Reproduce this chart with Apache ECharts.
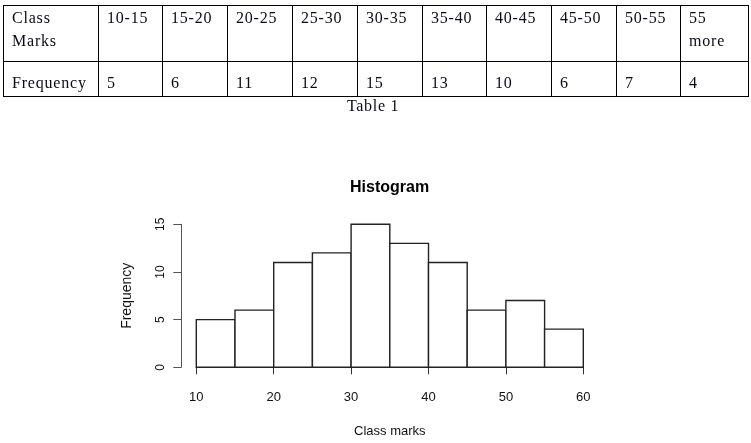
<!DOCTYPE html>
<html>
<head>
<meta charset="utf-8">
<script src="https://cdn.jsdelivr.net/npm/echarts@6/dist/echarts.min.js"></script>
<style>
  html, body { margin: 0; padding: 0; background: #fff; }
  #wrap { position: relative; width: 751px; height: 443px; overflow: hidden; }
  #chart { position: absolute; left: 0; top: 0; width: 751px; height: 443px; }
  #tbl {
    position: absolute; left: 3px; top: 5px; width: 745px;
    border-collapse: collapse; table-layout: fixed;
    font-family: 'Liberation Serif', 'Times New Roman', serif;
    font-size: 16px; line-height: 23px; letter-spacing: 0.8px; color: #0a0a14;
  }
  #tbl td { border: 1px solid #000; padding: 0 0 0 8px; vertical-align: top; white-space: pre-line; }
  #tbl tr.r1 { height: 56px; }
  #tbl tr.r2 { height: 35px; }
  #tbl tr.r2 td { padding-top: 9px; }
  #caption {
    position: absolute; left: 0; top: 96px; width: 746px; text-align: center;
    font-family: 'Liberation Serif', 'Times New Roman', serif;
    font-size: 16px; line-height: 20px; letter-spacing: 0.7px; color: #0a0a14;
  }
</style>
</head>
<body>
<div id="wrap">
  <div id="chart"></div>
  <table id="tbl"></table>
  <div id="caption">Table 1</div>
</div>
<script>
// table values
var tableHeads = ['Class\nMarks', 'Frequency'];
var classMarks = ['10-15', '15-20', '20-25', '25-30', '30-35', '35-40', '40-45', '45-50', '50-55', '55\nmore'];
var tableFreq = [5, 6, 11, 12, 15, 13, 10, 6, 7, 4];

// histogram values (as drawn)
var binEdges = [10, 15, 20, 25, 30, 35, 40, 45, 50, 55, 60];
var histFreq = [5, 6, 11, 12, 15, 13, 11, 6, 7, 4];
var xTicks = [10, 20, 30, 40, 50, 60];
var yTicks = [0, 5, 10, 15];

// build the table
var colW = [95, 64, 65, 65, 65, 65, 64, 65, 65, 64, 68];
var tbl = document.getElementById('tbl');
var cg = document.createElement('colgroup');
colW.forEach(function (w) {
  var c = document.createElement('col');
  c.style.width = w + 'px';
  cg.appendChild(c);
});
tbl.appendChild(cg);
[classMarks, tableFreq].forEach(function (row, r) {
  var tr = document.createElement('tr');
  tr.className = 'r' + (r + 1);
  var th = document.createElement('td');
  th.textContent = tableHeads[r];
  tr.appendChild(th);
  row.forEach(function (v) {
    var td = document.createElement('td');
    td.textContent = v;
    tr.appendChild(td);
  });
  tbl.appendChild(tr);
});

var histData = histFreq.map(function (f, i) {
  return [binEdges[i], binEdges[i + 1], f];
});

var fontR = "'Liberation Sans', Arial, sans-serif";

var option = {
  backgroundColor: '#fff',
  animation: false,
  title: {
    text: 'Histogram',
    left: 345,
    top: 175,
    textStyle: { fontFamily: fontR, fontSize: 16, fontWeight: 'bold', color: '#000' }
  },
  grid: {
    left: 196.3,
    right: 167.7,
    top: 224.3,
    bottom: 75.7,
    containLabel: false,
    outerBoundsMode: 'none'
  },
  xAxis: {
    type: 'value',
    min: xTicks[0],
    max: xTicks[xTicks.length - 1],
    interval: 10,
    offset: 6,
    name: 'Class marks',
    nameLocation: 'middle',
    nameGap: 52,
    nameTextStyle: { fontFamily: fontR, fontSize: 13, color: '#111' },
    axisLine: { show: true, lineStyle: { color: '#111', width: 1 } },
    axisTick: { show: true, length: 7, lineStyle: { color: '#333' } },
    axisLabel: { fontFamily: fontR, fontSize: 13, color: '#111', margin: 18 },
    splitLine: { show: false }
  },
  yAxis: {
    type: 'value',
    min: yTicks[0],
    max: yTicks[yTicks.length - 1],
    interval: 5,
    offset: 15,
    name: 'Frequency',
    nameLocation: 'middle',
    nameGap: 47,
    nameRotate: 90,
    nameTextStyle: { fontFamily: fontR, fontSize: 14, color: '#111' },
    axisLine: { show: true, lineStyle: { color: '#555', width: 1 } },
    axisTick: { show: true, length: 8, lineStyle: { color: '#555' } },
    axisLabel: { fontFamily: fontR, fontSize: 12, color: '#111', rotate: 90, margin: 15 },
    splitLine: { show: false }
  },
  series: [{
    type: 'custom',
    data: histData,
    encode: { x: [0, 1], y: 2 },
    renderItem: function (params, api) {
      var p0 = api.coord([api.value(0), api.value(2)]);
      var p1 = api.coord([api.value(1), 0]);
      return {
        type: 'rect',
        shape: { x: p0[0], y: p0[1], width: p1[0] - p0[0], height: p1[1] - p0[1] },
        style: { fill: '#fff', stroke: '#222', lineWidth: 1.4 }
      };
    }
  }]
};

var chart = echarts.init(document.getElementById('chart'));
chart.setOption(option);
</script>
</body>
</html>
